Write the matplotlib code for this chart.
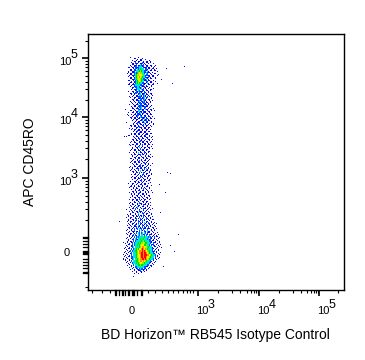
import numpy as np
import matplotlib
matplotlib.use("Agg")
import matplotlib.pyplot as plt
from matplotlib.colors import ListedColormap

plt.rcParams['font.family'] = ['Liberation Sans', 'DejaVu Sans']

# density, 0-9, one string per 2 px row starting at y=56, first column at x=120
density_rows = [
    "..........1.......1",
    "..............11.1..111..1",
    "............1.111.1111.1..11.11",
    "...........111.2111.11211.111.1..1",
    "..........1.11112.113212.111..11...1",
    "........11.1111221233412112111.1.11",
    "..........11.11213235443.22111.1111.1",
    "........1.1111213345653322131.11..11.1",
    ".......11.111124256766432132111.1.11",
    ".........111112456677764312211.111...11",
    "........1.11.113567876543211211.11.1",
    "..........1111235677654221311.11...1",
    "........11.1.1123567654311211111.1.1",
    ".........111.1124565432211131.11.1...1",
    "........11.11123343322121.1.11.111",
    "..........1.1112234213112111.1.1",
    "...........11.1123331312.11.1.11.1",
    "........1...11.1213211211.111.1",
    "..........11.11221124111211.1.11",
    "...........1.11.1113311231111..11",
    ".........11.1.11112221124112.1.1",
    "............111.11112212311.11.1",
    "..........1..11.11231213211..11.1",
    "...........11..1.112211221111.1",
    ".........1...1111131221111211..1",
    "...........11.11.11223112211.11",
    "............111.1121231113111.11.1",
    "..........11.1.11133111211.111.1..1",
    "........1...11.1121231121111.11",
    ".......11..1.1111221211.11.11.11",
    "..........111.1112.13211211.111.1",
    "...........1.1111111.12131211.11..1",
    "............1..11.111131112111.1",
    "......1......11.12121.113111.1.1.1",
    "..........11.111.11.1112.1111.1..1",
    "...........1..11111211.1111.11.1",
    ".........1.11.111.11.11.11111.1",
    ".............11.1211111.111.11",
    "...........1..111.1211.11111..11",
    "........11.1..111.11.11.1211.1",
    "....1........11.111.111.1111.1.11",
    "............11.11.12.111.1.111..1",
    "...........1.11.11.121111.11.1.1",
    "..........1...1111.11.1111.11.1",
    ".........11.11.111.11.2.11.111..1",
    "............1..11113.11.11.111.1",
    "...........11.11.11.2.111.11.1..1",
    "..........1...111.111.111.1.11",
    ".........1...11.1.3.111.211.1",
    "...........11.11.1112.11.11.1.1",
    "............1.111.11.111.11.111.1",
    "..........11.1.1.111.1.1.111.1",
    "...........11.11.112.11.11.11",
    "..........1.1.111.11.1.1211.1...1",
    ".............11.11.12.11.1.11.1",
    ".........11.1.11.111211.111.1",
    "...........11.1.112.111.2.311.1",
    "..........1.11.11.1.3.11.111.11",
    ".............1.111.2.1.21.11.1.1",
    "...........1..11.11.1.211.1.11.1",
    "...........11.111.1.211.11.11",
    "............1.11.111.1.111.1.11",
    "..........1...111.1.12.11.1.11",
    "........1...11.1.111.11.11..1.1",
    "...........11.1.1.1.111.11.1...1",
    ".........111.11.1.11.11.1.11.1",
    "...........1.1.111.1.1.2.11..1",
    "............11.11.111.11.1.11..1",
    ".........1.1.11.1.121.11.11.1...1",
    "...........11.1.111.1.111.1.11",
    "..........1.1.11.111.11.1.11.1",
    ".........1..11.111.2.1.111.1.11",
    "............1.1.111.1.111.11",
    ".........11.1.11.1.211.1.11.1.1",
    "..........1.11.1.111.1.211.11.1",
    ".........1.1.11.131.1.11.1.1.1",
    "......1...1.11.2.1.1.1.211.11.1.1",
    ".........1.11.1.11.211.1.11.1",
    "..........1.11.1.13.1.211.11.1.1",
    ".......11.1.11.11.2.11.21.1.11.1",
    "......1.1.11.1.111.2.1.2.11.1.1.1",
    "........1.1.11.12.1.211.1.211.1.11",
    ".......11.11.1.21.211.2.1.11.1.1",
    "........1.1.111.1.2.211.311.21.1.11.1",
    ".......1.11.1.121.311.211.21.11.1.1",
    "........11.1.1112.211.2.211.2.1.11.1",
    ".......1.1.11.2.12.312.211.211.1.11.1",
    "......1..1.1112.11.2.31.21.311.11.1",
    "......1.1.11.11.2.32.23.32.211.1.1.1.1",
    ".......1.11.12.21.32.3312.21.211.11.1.1",
    ".......1.1.11.2.23234434543323211.2.11.1",
    "......1.1.1.12.32134544534323121.11.1.1",
    ".......11.11.2.2334345465443322111.1.1.1",
    ".....1.1.1.12.234354566765543321.211.1.1",
    "......1.11.12.2345456777556432.2121.1.1.1",
    ".....1.1.1.123.344356788776454331.11.1.1.1",
    "....1.1.11.2.234565778987865443321.11.1",
    ".....1.1.12.23355678889898764533212.1.1",
    "....1.1.1.12.3345678899899876543321.1.1.1",
    "...1.1.1.1.2.33456778998999887654432.1.1",
    "....1.1.11.22334567789989987765433.2.1.1",
    "...1.1.1.1.123.4456788998987654332.11.1",
    ".....1.1.1.2.3345567887876544321.1.1",
    "......1.1.1.2334545677665443321.1.1",
    ".......1.1.1.2.34455655443322.11.1",
    ".........1.1.1.2233444332211.1.1",
    "..........1.1.1.12123221211.1",
    "............1.1.1.1121.11.1",
    "..............1.1.1..1",
]

# lone events, in axis channels
outlier_x = [96, 78, 84, 73, 37, 38, 31, 90, 82, 86, 75, 77, 35, 35, 45, 82, 79, 71, 72]
outlier_y = [223, 221, 206, 210, 180, 153, 68, 55, 44, 38, 23, 97, 30, 47, 13, 116, 117, 105, 77]

x_major = [110, 171, 231]
x_minor = [4, 14, 22, 60, 67, 74, 80, 85, 90, 95, 99, 102, 105, 130, 144, 152, 159, 163, 166, 168, 170,
           191, 205, 213, 219, 223, 226, 228, 230, 250]
x_dense = [27, 28, 31, 34, 35, 37, 40, 41, 44, 45, 46, 49, 53, 54]
x_tick_names = ["3", "4", "5"]

y_major = [112, 173, 232]
y_minor = [3, 70, 81, 88, 94, 99, 103, 106, 109, 131, 142, 149, 155, 160, 164, 167, 170,
           190, 201, 208, 214, 219, 223, 226, 229, 249]
y_dense = [17, 18, 22, 25, 28, 31, 36, 37, 38, 39, 43, 46, 49, 52, 53]
y_tick_names = ["3", "4", "5"]
zero_x = 44
zero_y = 37

palette = ["#0000ff", "#0050ff", "#00e0f0", "#00f0a0", "#00e000",
           "#90f000", "#f0f000", "#ff9000", "#ff0000"]

xlabel = "BD Horizon\u2122 RB545 Isotype Control"
ylabel = "APC CD45RO"

# density strings to a 256 channel image
grid = np.zeros((256, 256))
for i, row in enumerate(density_rows):
    top = 56 + 2 * i - 34
    for j, c in enumerate(row):
        if c == ".":
            continue
        col = 120 + j - 88
        v = int(c)
        if v == 1:
            grid[top + (i + j // 2) % 2, col] = 1
        else:
            grid[top, col] = v
            grid[top + 1, col] = v
for ox, oy in zip(outlier_x, outlier_y):
    grid[255 - oy, ox] = 1

fig = plt.figure(figsize=(3.65, 3.6), dpi=100)
ax = fig.add_axes([88 / 365, 1 - 290 / 360, 256 / 365, 256 / 360])
ax.imshow(np.ma.masked_equal(grid, 0), cmap=ListedColormap(palette), vmin=0.5, vmax=9.5,
          extent=[0, 256, 0, 256], origin="upper", aspect="auto", interpolation="nearest")

for spine in ax.spines.values():
    spine.set_linewidth(1.0)

# major ticks, then minor and the crowded ones around zero
ax.set_xticks(x_major)
ax.set_yticks(y_major)
ax.set_xticklabels([])
ax.set_yticklabels([])
ax.set_xticks(x_minor + x_dense, minor=True)
ax.set_yticks(y_minor + y_dense, minor=True)
ax.tick_params(which="major", length=4.5, width=1.2)
ax.tick_params(which="minor", length=2.5, width=0.8)
for t in x_dense:
    ax.plot([t, t], [0, -5], color="black", lw=0.9, clip_on=False)
for t in y_dense:
    ax.plot([0, -5], [t, t], color="black", lw=0.9, clip_on=False)
ax.set_xlim(0, 256)
ax.set_ylim(0, 256)

xt = ax.get_xaxis_transform()
yt = ax.get_yaxis_transform()
for tick, name in zip(x_major, x_tick_names):
    ax.annotate("10", (tick, 0), xycoords=xt, xytext=(4, -21), textcoords="offset pixels",
                ha="center", va="center", fontsize=8)
    ax.annotate(name, (tick, 0), xycoords=xt, xytext=(13, -15), textcoords="offset pixels",
                ha="center", va="center", fontsize=9)
for tick, name in zip(y_major, y_tick_names):
    ax.annotate("10", (0, tick), xycoords=yt, xytext=(-23, -4), textcoords="offset pixels",
                ha="center", va="center", fontsize=8)
    ax.annotate(name, (0, tick), xycoords=yt, xytext=(-14, 3), textcoords="offset pixels",
                ha="center", va="center", fontsize=9)
ax.annotate("0", (zero_x, 0), xycoords=xt, xytext=(0, -21), textcoords="offset pixels",
            ha="center", va="center", fontsize=8)
ax.annotate("0", (0, zero_y), xycoords=yt, xytext=(-21, 0), textcoords="offset pixels",
            ha="center", va="center", fontsize=8)

fig.text(215 / 365, 1 - 335 / 360, xlabel, ha="center", va="center", fontsize=10)
fig.text(30 / 365, 1 - 162 / 360, ylabel, ha="center", va="center", rotation=90, fontsize=10)

fig.savefig("out.png", dpi=100)
